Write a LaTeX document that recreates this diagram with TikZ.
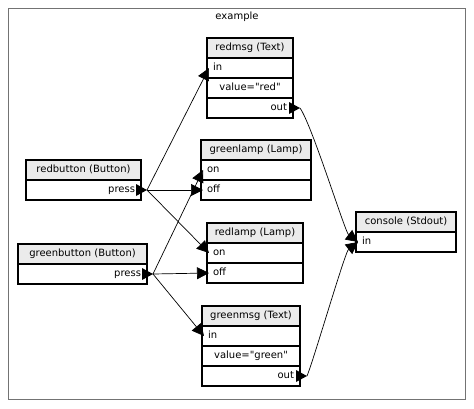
\documentclass[tikz,border=0pt]{standalone}
\usepackage{fontspec}
\setmainfont{DejaVu Sans}
\usetikzlibrary{positioning,arrows.meta}

\begin{document}
\begin{tikzpicture}[x=1pt,y=-1pt,node distance=0pt,
  field/.style={draw,line width=1.1pt,outer sep=0pt,inner xsep=6pt,inner ysep=0pt,
    minimum height=20pt,text height=7.5pt,text depth=2.2pt,text width=#1},
  head/.style={field=#1,fill=black!8,align=center},
  inport/.style={field=#1,align=left},
  midport/.style={field=#1,align=center},
  outport/.style={field=#1,align=right},
  link/.style={line width=0.7pt,-{Triangle[length=12pt,width=12pt]}}]
\useasboundingbox (0,0) rectangle (474,408);
\draw[black!55,line width=1pt] (8.5,8.5) rectangle (465,399.5);
\node (title) at (237,17) {example};

% buttons
\node[head=103pt,anchor=north west] (redbutton) at (26,160) {redbutton (Button)};
\node[outport=103pt,below=of redbutton] (redbutton-press) {press};
\node[head=117pt,anchor=north west] (greenbutton) at (18,244) {greenbutton (Button)};
\node[outport=117pt,below=of greenbutton] (greenbutton-press) {press};

% texts
\node[head=74pt,anchor=north west] (redmsg) at (207,38) {redmsg (Text)};
\node[inport=74pt,below=of redmsg] (redmsg-in) {in};
\node[midport=74pt,below=of redmsg-in] (redmsg-value) {value=\textquotedbl red\textquotedbl};
\node[outport=74pt,below=of redmsg-value] (redmsg-out) {out};
\node[head=86pt,anchor=north west] (greenmsg) at (202,306) {greenmsg (Text)};
\node[inport=86pt,below=of greenmsg] (greenmsg-in) {in};
\node[midport=86pt,below=of greenmsg-in] (greenmsg-value) {value=\textquotedbl green\textquotedbl};
\node[outport=86pt,below=of greenmsg-value] (greenmsg-out) {out};

% lamps
\node[head=98pt,anchor=north west] (greenlamp) at (201,140) {greenlamp (Lamp)};
\node[inport=98pt,below=of greenlamp] (greenlamp-on) {on};
\node[inport=98pt,below=of greenlamp-on] (greenlamp-off) {off};
\node[head=84pt,anchor=north west] (redlamp) at (207,223) {redlamp (Lamp)};
\node[inport=84pt,below=of redlamp] (redlamp-on) {on};
\node[inport=84pt,below=of redlamp-on] (redlamp-off) {off};

% output
\node[head=88pt,anchor=north west] (console) at (356,212) {console (Stdout)};
\node[inport=88pt,below=of console] (console-in) {in};

% tails
\coordinate (redbutton-tail) at ([xshift=6pt]redbutton-press.east);
\coordinate (greenbutton-tail) at ([xshift=6pt]greenbutton-press.east);
\coordinate (redmsg-tail) at ([xshift=7pt]redmsg-out.east);
\coordinate (greenmsg-tail) at ([xshift=7pt]greenmsg-out.east);
\fill (redbutton-tail) -- ++(-11,-6) -- ++(0,12) -- cycle;
\fill (greenbutton-tail) -- ++(-11,-6) -- ++(0,12) -- cycle;
\fill (redmsg-tail) -- ++(-11,-6) -- ++(0,12) -- cycle;
\fill (greenmsg-tail) -- ++(-11,-6) -- ++(0,12) -- cycle;

% connections
\draw[link] (redbutton-tail) -- ([xshift=2pt]redmsg-in.west);
\draw[link] (redbutton-tail) -- ([xshift=2pt]greenlamp-off.west);
\draw[link] (redbutton-tail) -- ([xshift=2pt]redlamp-on.west);
\draw[link] (greenbutton-tail) -- ([xshift=2pt]greenlamp-on.west);
\draw[link] (greenbutton-tail) -- ([xshift=2pt]redlamp-off.west);
\draw[link] (greenbutton-tail) -- ([xshift=2pt]greenmsg-in.west);
\draw[link] (redmsg-tail) .. controls (312,125) and (345,232) .. ([xshift=2pt]console-in.west);
\draw[link] (greenmsg-tail) .. controls (314,359) and (345,252) .. ([xshift=2pt]console-in.west);
\end{tikzpicture}
\end{document}
